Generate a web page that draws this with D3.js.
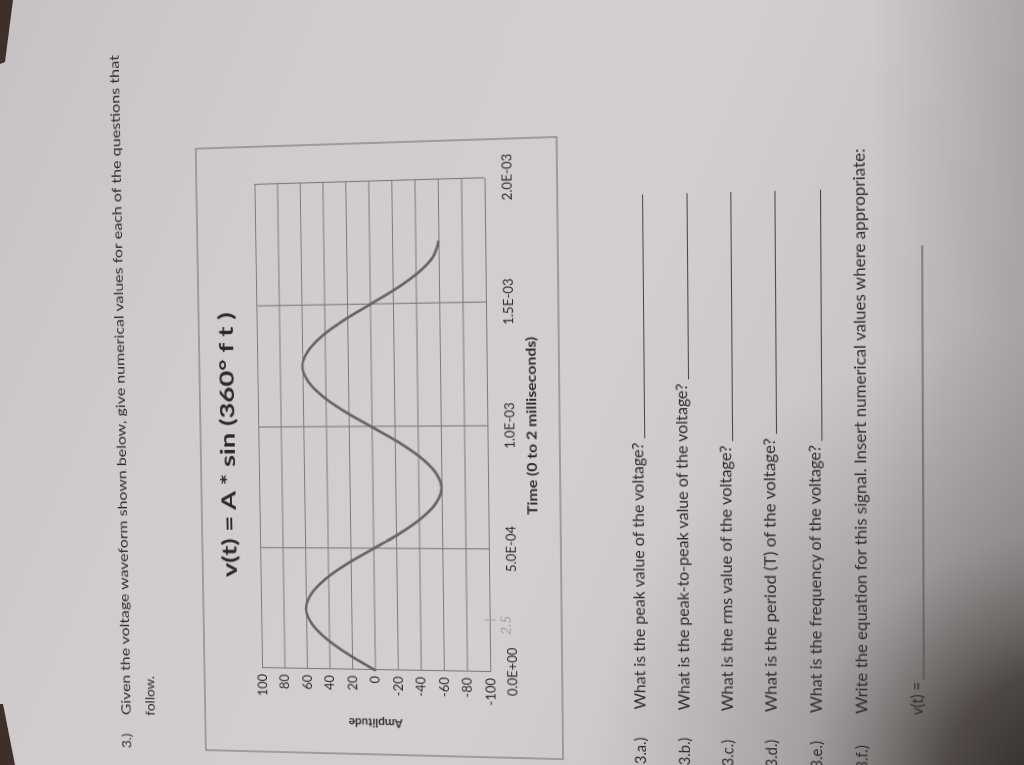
<!DOCTYPE html>
<html>
<head>
<meta charset="utf-8">
<script src="https://cdn.jsdelivr.net/npm/d3@7"></script>
<style>
  html, body { margin: 0; padding: 0; width: 1024px; height: 765px; overflow: hidden; background: #cfcbcc; }
  #bg { position: absolute; left: 0; top: 0; }
  #page { position: absolute; left: 0; top: 0; transform-origin: 0 0; }
  #fg { position: absolute; left: 0; top: 0; pointer-events: none; }
  text { font-family: Lato, "Open Sans", "Liberation Sans", sans-serif; }
</style>
</head>
<body>
<svg id="bg" width="1024" height="765"></svg>
<div id="page"></div>
<svg id="fg" width="1024" height="765"></svg>
<script>
// ---------------- data ----------------
const timeTicks      = [0, 0.0005, 0.001, 0.0015, 0.002];
const timeTickLabels = ["0.0E+00", "5.0E-04", "1.0E-03", "1.5E-03", "2.0E-03"];
const ampTicks       = [100, 80, 60, 40, 20, 0, -20, -40, -60, -80, -100];
const ampTickLabels  = ["100", "80", "60", "40", "20", "0", "-20", "-40", "-60", "-80", "-100"];

// waveform samples (seconds, volts)
const sampleTimes = [0, 0.0000625, 0.000125, 0.0001875, 0.00025, 0.0003125, 0.000375, 0.0004375,
                     0.0005, 0.0005625, 0.000625, 0.0006875, 0.00075, 0.0008125, 0.000875, 0.0009375,
                     0.001, 0.0010625, 0.001125, 0.0011875, 0.00125, 0.0013125, 0.001375, 0.0014375,
                     0.0015, 0.0015625, 0.001625, 0.0016875, 0.00175];
const sampleVolts = [0, 23, 42, 55, 60, 55, 42, 23,
                     0, -23, -42, -55, -60, -55, -42, -23,
                     0, 23, 42, 55, 60, 55, 42, 23,
                     0, -23, -42, -55, -60];

const titleText = "v(t) = A * sin (360\u00B0 f t )";
const xTitle = "Time (0 to 2 milliseconds)";
const yTitle = "Amplitude";
const headerLines = ["Given the voltage waveform shown below, give numerical values for each of the questions that", "follow."];
const questionLabels = ["3.a.)", "3.b.)", "3.c.)", "3.d.)", "3.e.)", "3.f.)"];
const questionTexts = [
  "What is the peak value of the voltage?",
  "What is the peak-to-peak value of the voltage?",
  "What is the rms value of the voltage?",
  "What is the period (T) of the voltage?",
  "What is the frequency of the voltage?",
  "Write the equation for this signal. Insert numerical values where appropriate:"
];

// ---------------- photo background ----------------
const bg = d3.select("#bg");
const defs = bg.append("defs");
const lg = defs.append("linearGradient").attr("id", "paper").attr("x1", 0).attr("y1", 0).attr("x2", 1).attr("y2", 0.3);
[[0, "#c6c2c4"], [0.3, "#d0cccd"], [0.65, "#d3cfd0"], [1, "#c6c2c2"]].forEach(s =>
  lg.append("stop").attr("offset", s[0]).attr("stop-color", s[1]));
const rg = defs.append("radialGradient").attr("id", "shadow")
  .attr("gradientUnits", "userSpaceOnUse").attr("cx", 1060).attr("cy", 790).attr("r", 470);
[[0, "rgba(42,36,33,0.97)"], [0.25, "rgba(58,51,48,0.82)"], [0.55, "rgba(100,95,93,0.35)"], [1, "rgba(120,115,113,0)"]]
  .forEach(s => rg.append("stop").attr("offset", s[0]).attr("stop-color", s[1]));
const eg = defs.append("linearGradient").attr("id", "edge").attr("x1", 0).attr("y1", 0).attr("x2", 1).attr("y2", 0);
[[0, "rgba(90,85,83,0)"], [0.85, "rgba(90,85,83,0)"], [1, "rgba(90,85,83,0.28)"]]
  .forEach(s => eg.append("stop").attr("offset", s[0]).attr("stop-color", s[1]));
bg.append("rect").attr("width", 1024).attr("height", 765).attr("fill", "url(#paper)");
bg.append("rect").attr("width", 1024).attr("height", 765).attr("fill", "url(#edge)");
bg.append("rect").attr("width", 1024).attr("height", 765).attr("fill", "url(#shadow)");
// table visible past the paper edge at the far left
const fg = d3.select("#fg");
fg.append("path").attr("d", "M0,0 L13,0 L5,62 L0,64 Z").attr("fill", "#3e3029");
fg.append("path").attr("d", "M0,704 L3,704 L15,765 L0,765 Z").attr("fill", "#3e3029");

// ---------------- worksheet page (local, upright coordinates) ----------------
const OX = 40, OY = 110, PW = 780, PH = 850;
const box = { w: 610, h: 368 };
const plot = { x0: 85, x1: 572, y0: 61, y1: 296 };
const ink = "#2f2b2d", rule = "#7d797a";

const svg = d3.select("#page").append("svg").attr("width", PW).attr("height", PH);
const g = svg.append("g").attr("transform", `translate(${OX},${OY})`);

// header
g.append("text").attr("x", 0).attr("y", -80).attr("font-size", 14).attr("fill", ink).text("3.)");
g.append("text").attr("x", 34).attr("y", -80).attr("font-size", 14).attr("fill", ink)
  .attr("textLength", 673).attr("lengthAdjust", "spacingAndGlyphs").text(headerLines[0]);
g.append("text").attr("x", 34).attr("y", -54).attr("font-size", 14).attr("fill", ink).text(headerLines[1]);

// chart box
g.append("rect").attr("x", 0).attr("y", 0).attr("width", box.w).attr("height", box.h)
  .attr("fill", "none").attr("stroke", rule).attr("stroke-width", 1.2);

const x = d3.scaleLinear().domain([0, 0.002]).range([plot.x0, plot.x1]);
const y = d3.scaleLinear().domain([-100, 100]).range([plot.y1, plot.y0]);

const yAxis = d3.axisLeft(y).tickValues(ampTicks)
  .tickFormat((d, i) => ampTickLabels[i]).tickSize(-(plot.x1 - plot.x0)).tickPadding(6);
const ya = g.append("g").attr("transform", `translate(${plot.x0},0)`).call(yAxis);
ya.select(".domain").remove();
ya.selectAll(".tick line").attr("stroke", rule).attr("stroke-width", 1.1);
ya.selectAll(".tick text").attr("font-size", 13).attr("fill", ink).attr("font-family", "Lato, sans-serif");

const xAxis = d3.axisBottom(x).tickValues(timeTicks)
  .tickFormat((d, i) => timeTickLabels[i]).tickSize(-(plot.y1 - plot.y0)).tickPadding(18);
const xa = g.append("g").attr("transform", `translate(0,${plot.y1})`).call(xAxis);
xa.select(".domain").remove();
xa.selectAll(".tick line").attr("stroke", rule).attr("stroke-width", 1.1);
xa.selectAll(".tick text").attr("font-size", 13).attr("fill", ink).attr("font-family", "Lato, sans-serif");

// waveform
const pts = sampleTimes.map((t, i) => ({ t, v: sampleVolts[i] }));
g.append("path").datum(pts)
  .attr("d", d3.line().x(d => x(d.t)).y(d => y(d.v)).curve(d3.curveMonotoneX))
  .attr("fill", "none").attr("stroke", "#676364").attr("stroke-width", 2.7).attr("stroke-linecap", "round");

// titles
g.append("text").attr("x", 311).attr("y", 36).attr("text-anchor", "middle")
  .attr("font-size", 21).attr("font-weight", "bold").attr("fill", "#2c2829")
  .attr("textLength", 268).attr("lengthAdjust", "spacingAndGlyphs").text(titleText);
g.append("text").attr("transform", `translate(36,${(plot.y0 + plot.y1) / 2}) rotate(-90)`)
  .attr("text-anchor", "middle").attr("font-size", 12).attr("font-weight", "bold").attr("fill", ink).text(yTitle);
g.append("text").attr("x", (plot.x0 + plot.x1) / 2).attr("y", 345).attr("text-anchor", "middle")
  .attr("font-size", 13).attr("font-weight", "bold").attr("fill", ink)
  .attr("textLength", 175).attr("lengthAdjust", "spacingAndGlyphs").text(xTitle);

// pencil mark
g.append("line").attr("x1", x(0.00025) - 9).attr("x2", x(0.00025) - 9)
  .attr("y1", plot.y1 - 5).attr("y2", plot.y1 + 6).attr("stroke", "#9e9a9b").attr("stroke-width", 1);
g.append("text").attr("x", 122).attr("y", 317).attr("font-size", 14).attr("font-style", "italic")
  .attr("fill", "#a19d9e").text("2.5");

// questions
const qBase = [450, 493, 535, 577, 620, 663];
const qLen = [261, 318, 258, 265, 258, 539];
const lineEnd = 552;
questionTexts.forEach((q, i) => {
  g.append("text").attr("x", -3).attr("y", qBase[i]).attr("font-size", 14.5).attr("fill", ink).text(questionLabels[i]);
  g.append("text").attr("x", 50.7).attr("y", qBase[i]).attr("font-size", 14.5).attr("fill", ink)
    .attr("textLength", qLen[i]).attr("lengthAdjust", "spacingAndGlyphs").text(q);
  if (i < 5) {
    g.append("line").attr("x1", 50.7 + qLen[i] + 4).attr("x2", lineEnd)
      .attr("y1", qBase[i] + 1.5).attr("y2", qBase[i] + 1.5).attr("stroke", "#4a4647").attr("stroke-width", 1);
  }
});
g.append("text").attr("x", 50.7).attr("y", 714.5).attr("font-size", 14.5).attr("fill", ink)
  .attr("textLength", 32).attr("lengthAdjust", "spacingAndGlyphs").text("v(t) =");
g.append("line").attr("x1", 85).attr("x2", 497).attr("y1", 716).attr("y2", 716)
  .attr("stroke", "#4a4647").attr("stroke-width", 1);

// ---------------- map the upright page onto the photographed page (least-squares homography) ----------------
function fitHomography(pairs) {
  const k = 1000; // normalise for conditioning
  const N = Array.from({ length: 8 }, () => new Array(8).fill(0)), r = new Array(8).fill(0);
  const addRow = (row, val) => {
    for (let i = 0; i < 8; i++) { r[i] += row[i] * val; for (let j = 0; j < 8; j++) N[i][j] += row[i] * row[j]; }
  };
  pairs.forEach(([sx0, sy0, X0, Y0]) => {
    const sx = sx0 / k, sy = sy0 / k, X = X0 / k, Y = Y0 / k;
    addRow([sx, sy, 1, 0, 0, 0, -sx * X, -sy * X], X);
    addRow([0, 0, 0, sx, sy, 1, -sx * Y, -sy * Y], Y);
  });
  const n = 8;
  for (let c = 0; c < n; c++) {
    let p = c;
    for (let q = c + 1; q < n; q++) if (Math.abs(N[q][c]) > Math.abs(N[p][c])) p = q;
    [N[c], N[p]] = [N[p], N[c]]; [r[c], r[p]] = [r[p], r[c]];
    for (let q = 0; q < n; q++) {
      if (q === c) continue;
      const f = N[q][c] / N[c][c];
      for (let j = c; j < n; j++) N[q][j] -= f * N[c][j];
      r[q] -= f * r[c];
    }
  }
  const h = r.map((v, i) => v / N[i][i]);
  return [h[0], h[1], h[2] * k, h[3], h[4], h[5] * k, h[6] / k, h[7] / k];
}
// [local u, local v, photo x, photo y]
const anchors = [
  [0, 0, 203, 748], [box.w, 0, 192, 152], [box.w, box.h, 562, 135], [0, box.h, 570, 760],
  [plot.x0, plot.y0, 263, 667.5], [plot.x1, plot.y0, 253, 190], [plot.x1, plot.y1, 490, 181], [plot.x0, plot.y1, 496.5, 670],
  [50.7, 442, 644, 708], [50.7, 527, 727.5, 713], [50.7, 612, 811, 719], [50.7, 706.5, 902, 725],
  [lineEnd, 448.5, 645, 192], [lineEnd, 533.5, 730, 187], [lineEnd, 618.5, 817, 182], [497, 714.5, 907, 240],
  [34, -85, 118, 706], [707, -85, 110, 61], [311, 29, 228, 444], [328.5, 340, 538, 430]
].map(([u, v, X, Y]) => [u + OX, v + OY, X, Y]);
const h = fitHomography(anchors);
d3.select("#page").style("transform",
  `matrix3d(${h[0]},${h[3]},0,${h[6]},${h[1]},${h[4]},0,${h[7]},0,0,1,0,${h[2]},${h[5]},0,1)`);
</script>
</body>
</html>
